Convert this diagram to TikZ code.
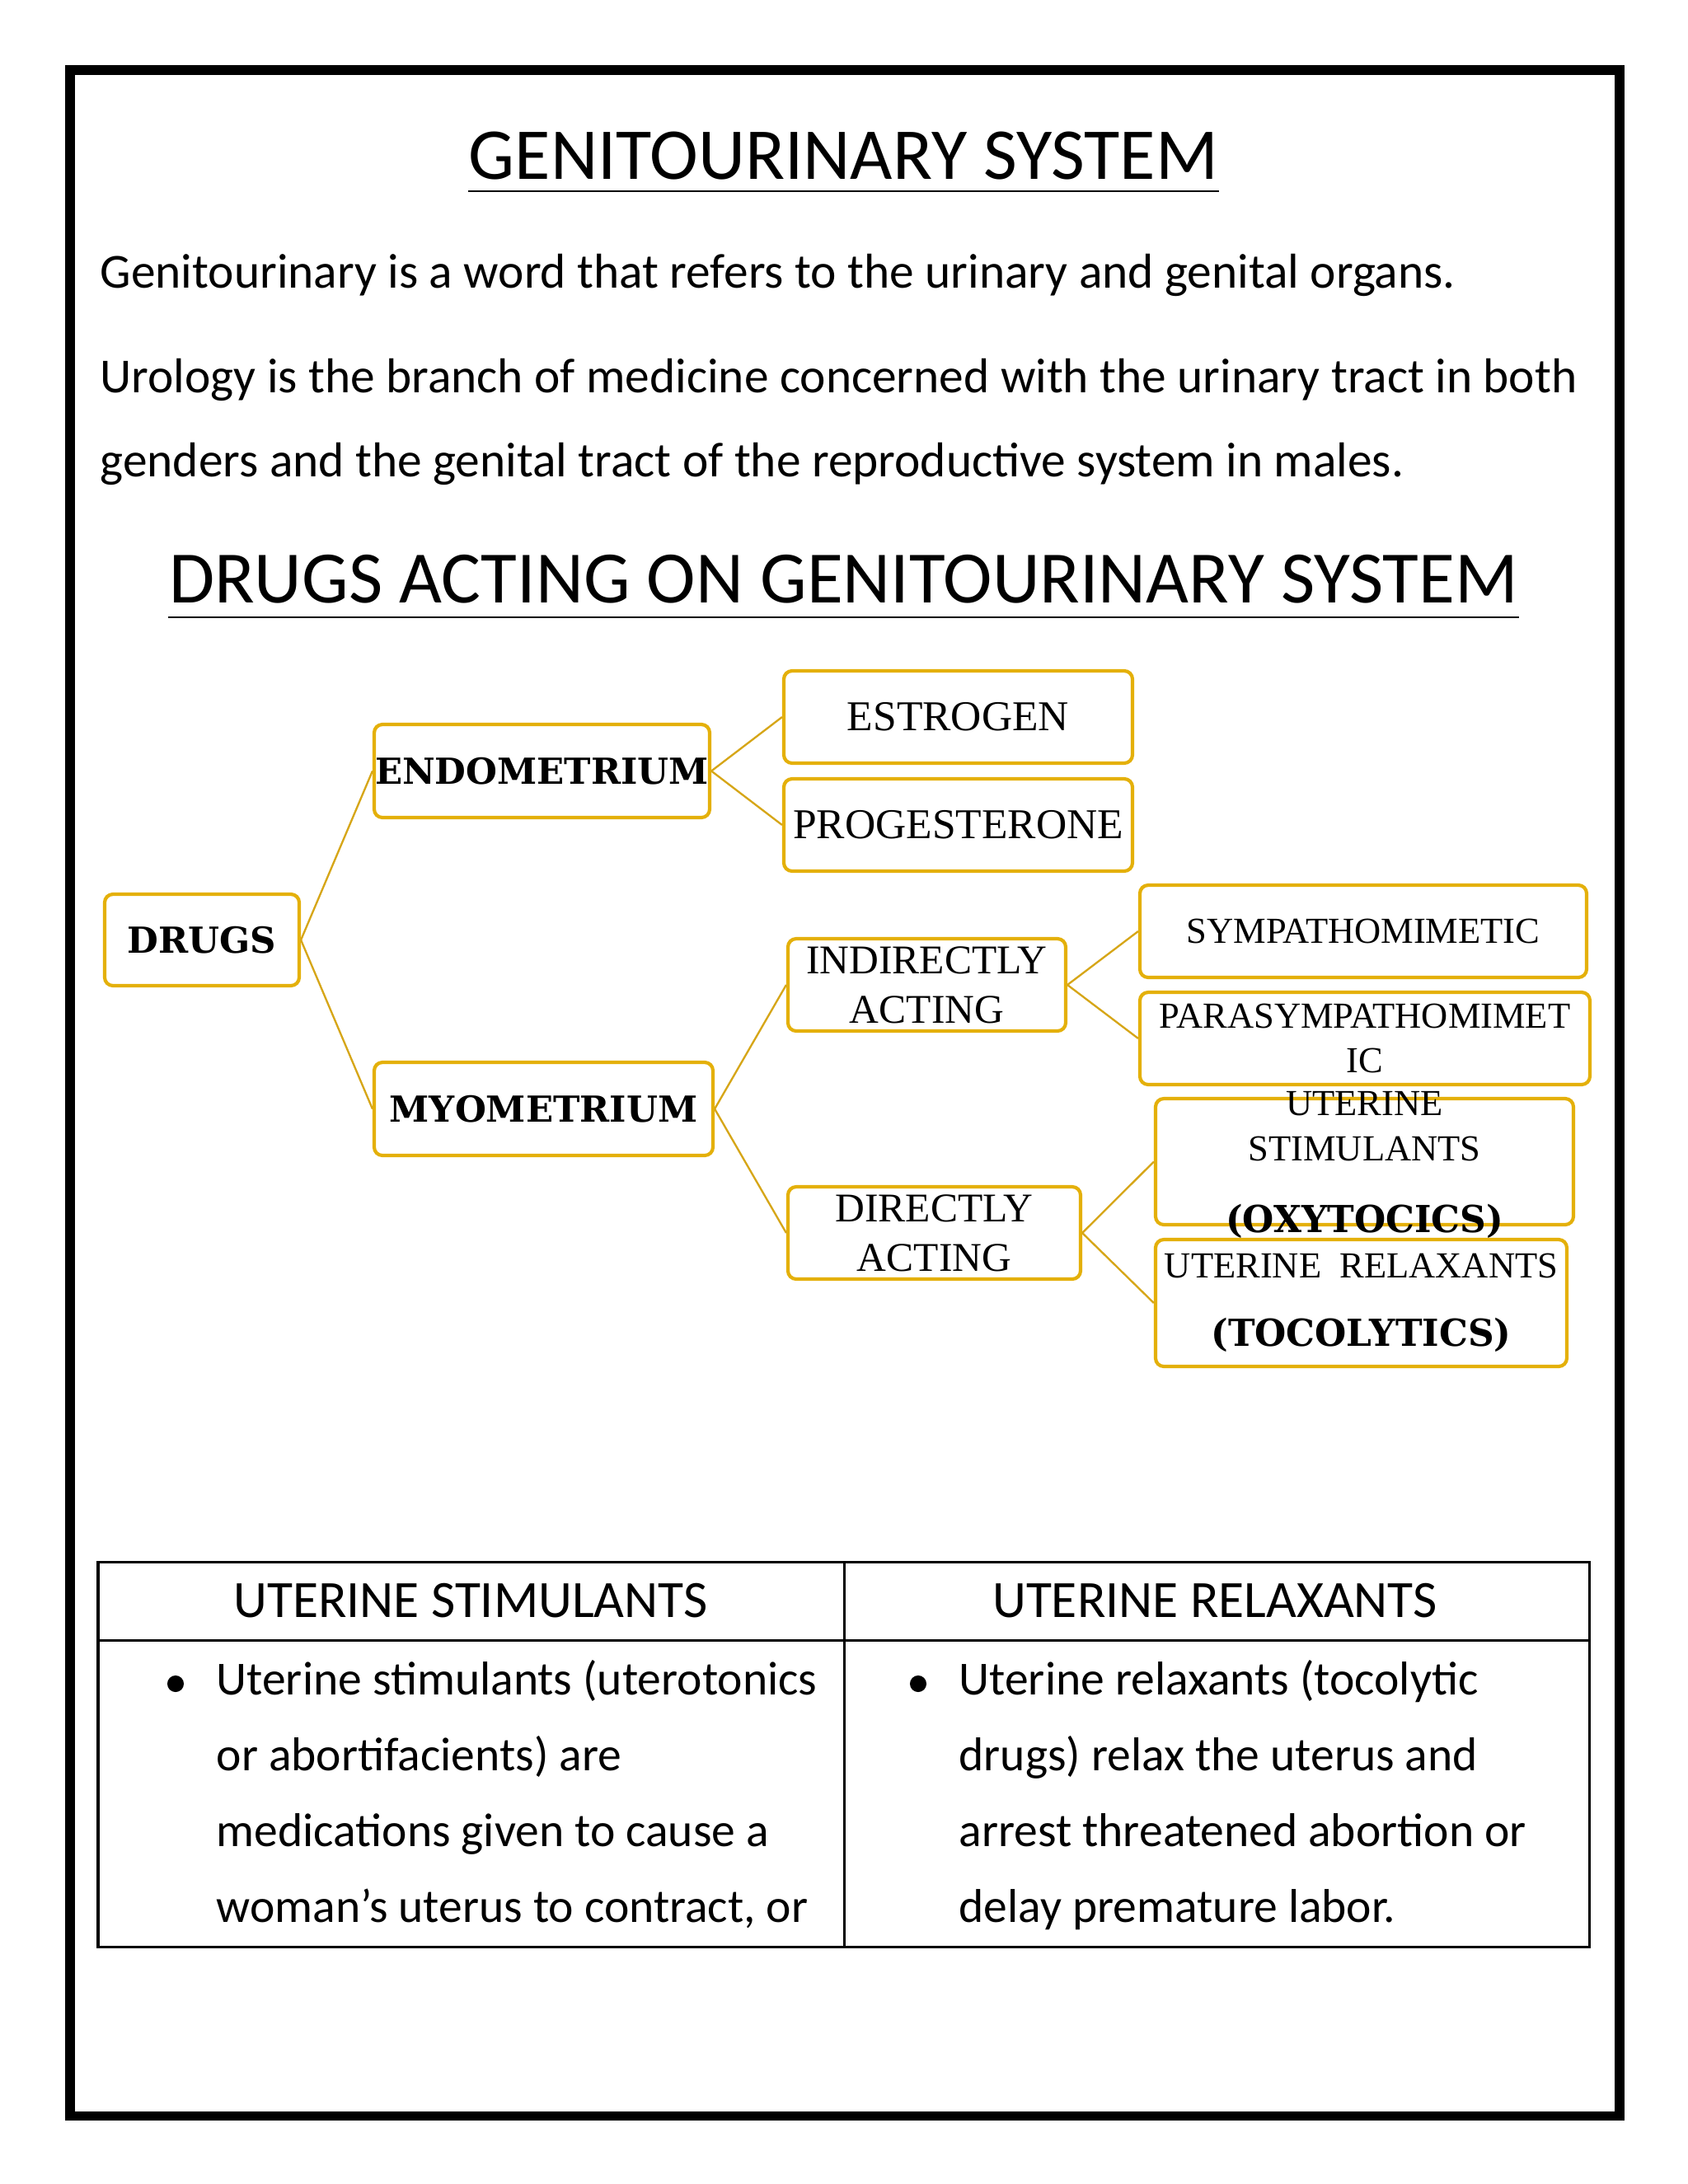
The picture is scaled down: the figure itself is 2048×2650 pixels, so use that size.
\documentclass[tikz,border=0pt]{standalone}
\usepackage{fontspec}
\setmainfont{Carlito}
\newfontfamily\boxserif{Liberation Serif}
\newfontfamily\boxslab{DejaVu Serif}
\newfontfamily\boxslabnarrow{DejaVu Serif}[FakeStretch=0.97]
\definecolor{boxgold}{RGB}{228,176,10}
\definecolor{linkgold}{RGB}{214,166,24}
\newcommand{\pxu}{0.29883pt}

\begin{document}
\begin{tikzpicture}[
      x=\pxu, y=-\pxu,
      every node/.style={inner sep=0pt},
      heading/.style={anchor=base, font=\fontsize{26.5}{31}\selectfont},
      bodytext/.style={anchor=base west, font=\fontsize{17.75}{21}\selectfont},
      cellhead/.style={anchor=base, font=\fontsize{19}{23}\selectfont},
      celltext/.style={anchor=base west, font=\fontsize{17.2}{21}\selectfont},
      box/.style 2 args={draw=boxgold, line width=1.25pt, rounded corners=3pt,
        minimum width=#1*\pxu, minimum height=#2*\pxu, align=center},
      slab/.style={font=\boxslab\bfseries\fontsize{13}{16}\selectfont},
      plain/.style={font=\boxserif\fontsize{15.4}{18.6}\selectfont},
      mid/.style={font=\boxserif\fontsize{14.8}{17.9}\selectfont},
      small/.style={font=\boxserif\fontsize{13.3}{16.4}\selectfont},
      link/.style={draw=linkgold, line width=0.7pt},
      rule/.style={line width=0.9pt}]

      \useasboundingbox (0,0) rectangle (2048,2650);
      \draw[line width=3.3pt] (85,85) rectangle (1965,2567);

      % titles and text
      \node[heading] (title) at (1023.5,217) {GENITOURINARY SYSTEM};
      \draw[line width=0.8pt] ([yshift=-15*\pxu]title.base west) -- ([yshift=-15*\pxu]title.base east);
      \node[bodytext] (intro) at (121,349.5) {Genitourinary is a word that refers to the urinary and genital organs.};
      \node[bodytext] (urol1) at (121,476) {Urology is the branch of medicine concerned with the urinary tract in both};
      \node[bodytext] (urol2) at (121,578) {genders and the genital tract of the reproductive system in males.};
      \node[heading, font=\fontsize{26.8}{31}\selectfont] (drugtitle) at (1023.5,731) {DRUGS ACTING ON GENITOURINARY SYSTEM};
      \draw[line width=0.8pt] ([yshift=-18*\pxu]drugtitle.base west) -- ([yshift=-18*\pxu]drugtitle.base east);

      % tree
      \node[box={236}{111}, slab] (drugs) at (245,1140.5) {DRUGS};
      \node[box={407}{113}, slab] (endo) at (657.5,935.5) {ENDOMETRIUM};
      \node[box={411}{113}, slab] (myo) at (659.5,1345.5) {MYOMETRIUM};
      \node[box={423}{112}, plain] (estro) at (1162.5,870) {ESTROGEN};
      \node[box={423}{112}, plain] (proge) at (1162.5,1001) {PROGESTERONE};
      \node[box={337}{112}, mid] (indirect) at (1124.5,1195) {INDIRECTLY\\ACTING};
      \node[box={355}{112}, mid] (direct) at (1133.5,1496) {DIRECTLY\\ACTING};
      \node[box={542}{112}, small] (sympa) at (1654,1130) {SYMPATHOMIMETIC};
      \node[box={546}{112}, small] (parasympa) at (1656,1260) {PARASYMPATHOMIMET\\IC};
      \node[box={507}{153}] (stim) at (1655.5,1409.5) {};
      \node[small, align=center] (stimtext) at ([yshift=-4*\pxu]stim) {UTERINE\\STIMULANTS\\[9.5pt]{\boxslabnarrow\bfseries\fontsize{13.5}{16.4}\selectfont (OXYTOCICS)}};
      \node[box={499}{154}, small] (relax) at (1651.5,1581) {UTERINE\ \ RELAXANTS\\[8.4pt]{\boxslabnarrow\bfseries\fontsize{13.5}{16.4}\selectfont (TOCOLYTICS)}};

      \foreach \a/\b in {drugs/endo, drugs/myo, endo/estro, endo/proge, myo/indirect, myo/direct,
        indirect/sympa, indirect/parasympa, direct/stim, direct/relax}
        \draw[link] (\a.east) -- (\b.west);

      % table
      \draw[rule] (119,1895) rectangle (1928,2362);
      \draw[rule] (119,1990) -- (1928,1990);
      \draw[rule] (1024,1895) -- (1024,2362);
      \node[cellhead] (stimhead) at (571,1962) {UTERINE STIMULANTS};
      \node[cellhead] (relaxhead) at (1474,1962) {UTERINE RELAXANTS};
      \fill (213,2043) circle[radius=3pt];
      \fill (1114,2043) circle[radius=3pt];
      \foreach \t [count=\i] in {{Uterine stimulants (uterotonics}, {or abortifacients) are},
        {medications given to cause a}, {woman’s uterus to contract, or}}
        \node[celltext] (stimline\i) at (262,{2056+(\i-1)*92.3}) {\t};
      \foreach \t [count=\i] in {{Uterine relaxants (tocolytic}, {drugs) relax the uterus and},
        {arrest threatened abortion or}, {delay premature labor.}}
        \node[celltext] (relaxline\i) at (1163,{2056+(\i-1)*92.3}) {\t};
    \end{tikzpicture}
\end{document}
